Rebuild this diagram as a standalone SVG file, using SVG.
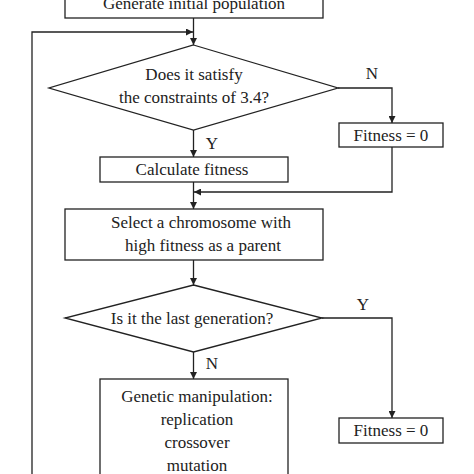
<svg xmlns="http://www.w3.org/2000/svg" width="474" height="474" viewBox="0 0 474 474">
<style>
.n{fill:#fff;stroke:#222;stroke-width:1.3}
.t{font-family:"Liberation Serif","Times New Roman",serif;font-size:17px;fill:#222;text-anchor:middle}
.c{fill:none;stroke:#222;stroke-width:1.3}
</style>
<defs>
<marker id="a" viewBox="0 0 10 10" refX="10" refY="5" markerWidth="7" markerHeight="7" markerUnits="userSpaceOnUse" orient="auto">
<path d="M0,0 L10,5 L0,10 z" fill="#222"/>
</marker>
</defs>
<rect width="474" height="474" fill="#fff"/>
<g id="connectors">
<path class="c" d="M193.5,18 V45" marker-end="url(#a)"/>
<path class="c" d="M32,474 V32 H193" marker-end="url(#a)"/>
<path class="c" d="M338,88 H392 V123" marker-end="url(#a)"/>
<path class="c" d="M193.5,130 V157" marker-end="url(#a)"/>
<path class="c" d="M392,147 V192 H194" marker-end="url(#a)"/>
<path class="c" d="M193.5,182 V209" marker-end="url(#a)"/>
<path class="c" d="M193.5,260 V285" marker-end="url(#a)"/>
<path class="c" d="M322,318 H392 V418" marker-end="url(#a)"/>
<path class="c" d="M193.5,352 V379" marker-end="url(#a)"/>
<text class="t" x="372" y="79">N</text>
<text class="t" x="212" y="149">Y</text>
<text class="t" x="363" y="310">Y</text>
<text class="t" x="212" y="369">N</text>
</g>
<g id="start">
<rect class="n" x="65" y="-10" width="258" height="28"/>
<text class="t" x="194" y="9">Generate initial population</text>
</g>
<g id="check">
<polygon class="n" points="193.5,45 338,88 193.5,130 49,88"/>
<text class="t" x="194" y="80">Does it satisfy</text>
<text class="t" x="194" y="103">the constraints of 3.4?</text>
</g>
<g id="fit0a">
<rect class="n" x="339" y="123" width="104" height="24"/>
<text class="t" x="391" y="141">Fitness = 0</text>
</g>
<g id="calc">
<rect class="n" x="100" y="157" width="188" height="25"/>
<text class="t" x="192" y="175">Calculate fitness</text>
</g>
<g id="select">
<rect class="n" x="65" y="209" width="258" height="51"/>
<text class="t" x="201" y="228">Select a chromosome with</text>
<text class="t" x="203" y="251">high fitness as a parent</text>
</g>
<g id="last">
<polygon class="n" points="193.5,285 322,318 193.5,352 65,318"/>
<text class="t" x="192" y="324">Is it the last generation?</text>
</g>
<g id="fit0b">
<rect class="n" x="339" y="418" width="104" height="25"/>
<text class="t" x="391" y="436">Fitness = 0</text>
</g>
<g id="genetic">
<rect class="n" x="100" y="379" width="188" height="110"/>
<text class="t" x="197" y="402">Genetic manipulation:</text>
<text class="t" x="197" y="425">replication</text>
<text class="t" x="197" y="448">crossover</text>
<text class="t" x="197" y="471">mutation</text>
</g>
</svg>
